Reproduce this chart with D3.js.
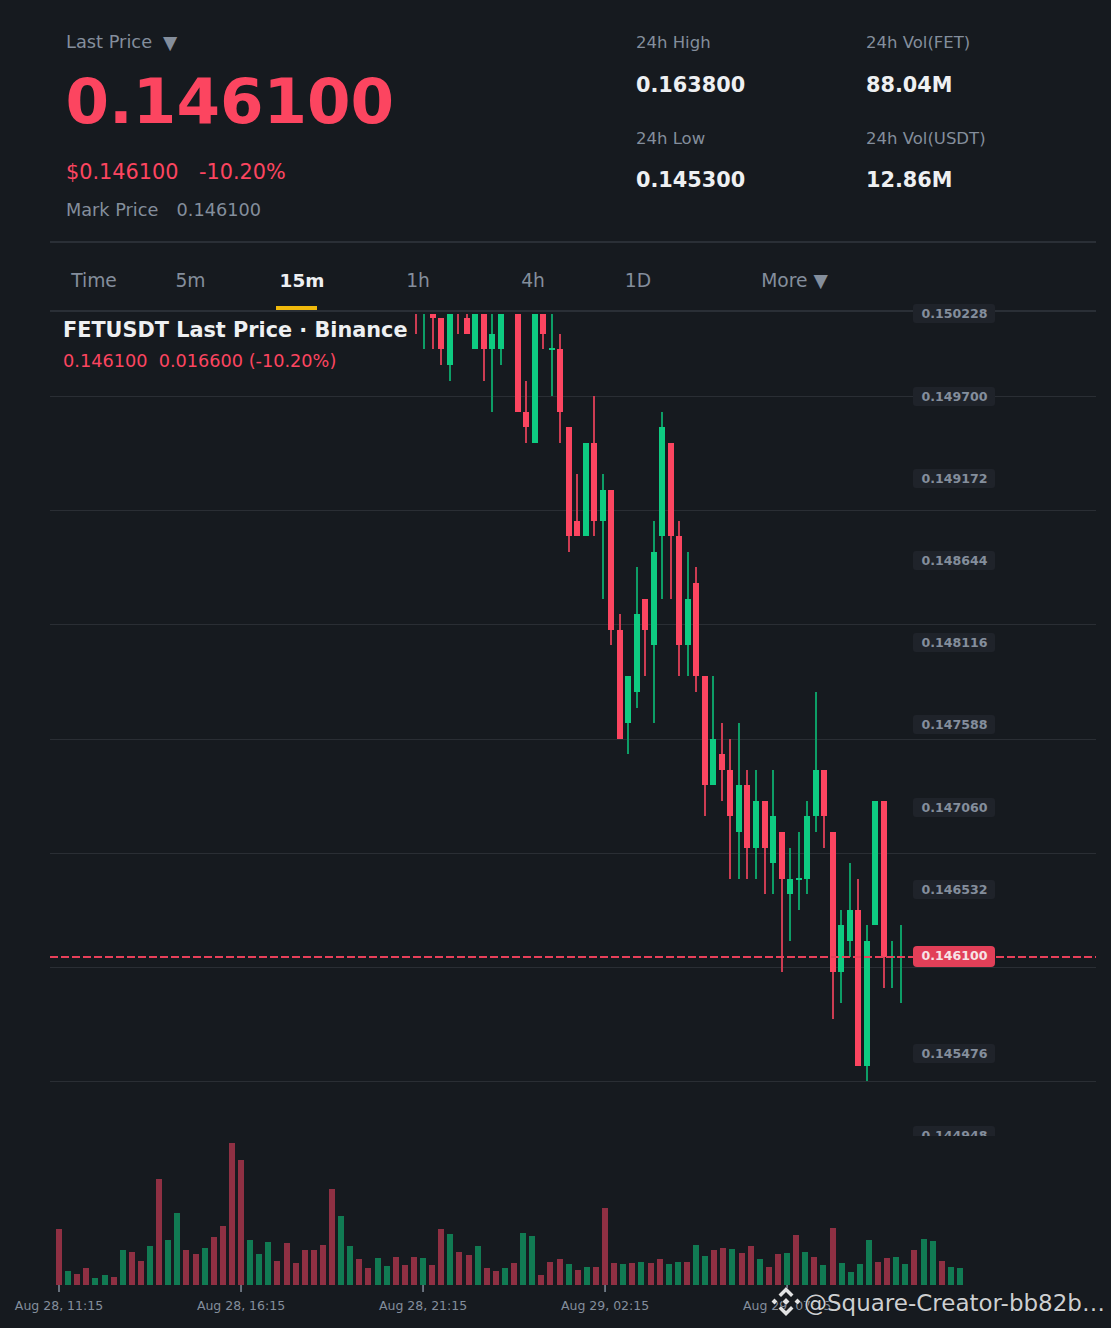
<!DOCTYPE html>
<html><head><meta charset="utf-8">
<script src="https://cdn.jsdelivr.net/npm/d3@7/dist/d3.min.js"></script>
<style>html,body{margin:0;padding:0;background:#161a1f;overflow:hidden}svg{display:block}text{font-family:"DejaVu Sans",sans-serif}</style>
</head><body><div id="c"></div>
<script>
// candles 39..96 of the 15m series (top ones run off the clipped pane)
const candleIndex = d3.range(39, 97);
const opens  = [.1504,.1503,.1503,.1502,.1499,.1504,.1502,.1500,.1504,.1500,.1500,.1510,.1505,.1496,.1494,.1506,.1500,.1500,.1495,.1489,.1488,.1494,.1489,.1491,.1482,.1476,.1478,.1484,.1481,.1488,.1494,.1488,.1481,.1485,.1479,.1472,.1474,.1473,.1469,.1472,.1468,.1471,.1467,.1469,.1465,.1466,.1466,.1470,.1473,.1469,.1460,.1462,.1464,.1454,.1463,.1471,.1461,.1461];
const closes = [.1503,.1504,.1502,.1500,.1503,.1503,.1501,.1504,.1500,.1501,.1504,.1508,.1496,.1495,.1505,.1501,.1500,.1496,.1488,.1488,.1494,.1489,.1491,.1482,.1475,.1479,.1483,.1482,.1487,.1495,.1488,.1481,.1484,.1479,.1472,.1475,.1473,.1470,.1472,.1468,.1471,.1468,.1470,.1466,.1466,.1466,.1470,.1473,.1470,.1460,.1463,.1464,.1454,.1462,.1471,.1461,.1461,.1461];
const highs  = [.1505,.1505,.1504,.1502,.1505,.1505,.1503,.1505,.1505,.1503,.1505,.1511,.1506,.1498,.1506,.1507,.1503,.1501,.1495,.1492,.1494,.1497,.1492,.1491,.1483,.1479,.1486,.1484,.1489,.1496,.1494,.1489,.1487,.1486,.1479,.1479,.1476,.1475,.1476,.1473,.1473,.1471,.1473,.1469,.1468,.1469,.1471,.1478,.1473,.1469,.1464,.1467,.1466,.1463,.1471,.1471,.1462,.1463];
const lows   = [.1501,.1500,.1500,.1499,.1498,.1501,.1501,.1500,.1498,.1496,.1499,.1505,.1496,.1494,.1494,.1500,.1497,.1494,.1487,.1488,.1488,.1488,.1484,.1481,.1475,.1474,.1477,.1479,.1476,.1484,.1484,.1479,.1479,.1478,.1470,.1472,.1471,.1466,.1466,.1466,.1466,.1465,.1465,.1460,.1462,.1464,.1465,.1469,.1468,.1457,.1458,.1461,.1454,.1453,.1463,.1459,.1459,.1458];

// volume pane: 100 bars, read in pixel-height units of the pane
const volumes = [56,14,11,17,7,10,8,35,33,24,39,106,45,72,35,31,37,48,59,142,125,45,31,43,24,42,22,35,35,40,96,69,39,26,17,27,19,28,20,28,27,20,56,51,33,30,39,17,14,17,22,52,49,10,23,26,21,15,18,18,77,22,21,22,23,22,26,21,23,23,40,29,35,37,36,32,39,26,18,31,32,50,33,28,20,57,22,13,21,45,23,27,28,21,35,46,44,24,18,17];
const volumeColors = ["R","G","R","R","G","G","R","G","R","R","G","R","G","G","R","R","G","R","R","R","R","G","G","G","R","R","R","R","R","R","R","G","G","R","R","G","G","R","R","R","G","R","R","G","R","R","G","R","R","G","R","G","G","R","R","R","G","R","G","R","R","R","G","R","G","R","R","G","G","R","G","G","R","R","G","R","R","G","R","R","G","R","G","R","G","R","G","G","G","G","R","R","G","G","R","G","G","R","G","G"];

const priceTicks = [0.150228,0.149700,0.149172,0.148644,0.148116,0.147588,0.147060,0.146532,0.145476,0.144948];
const gridPrices = [0.149700,0.148968,0.148235,0.147495,0.146762,0.146030,0.145298];
const lastPrice = 0.146100;
const timeTicks = [[0,"Aug 28, 11:15"],[20,"Aug 28, 16:15"],[40,"Aug 28, 21:15"],[60,"Aug 29, 02:15"],[80,"Aug 29, 07:15"]];
const tabs = [["Time",94],["5m",190.5],["15m",302],["1h",418],["4h",533],["1D",638],["More ▼",794.5]];

const RED="#FC4560", GREEN="#0ECB81", GREY="#848E9C", WHITE="#EEF0F2", BG="#161a1f";
const svg = d3.select("#c").append("svg").attr("width",1111).attr("height",1328);
svg.append("rect").attr("width",1111).attr("height",1328).attr("fill",BG);

function t(x,y,s,size,fill,weight,anchor){
  return svg.append("text").attr("x",x).attr("y",y).attr("font-size",size).attr("fill",fill)
    .attr("font-weight",weight||"normal").attr("text-anchor",anchor||"start").style("white-space","pre").text(s);
}
// header
t(66,48.3,"Last Price",17.8,GREY);
t(163,49,"▼",18.5,GREY);
t(65.5,123,"0.146100",62.6,RED,"bold");
t(66,179,"$0.146100",20.8,RED);
t(199,179,"-10.20%",20.8,RED);
t(66,216,"Mark Price",17.7,GREY);
t(176.5,216,"0.146100",17.7,GREY);
t(636,48,"24h High",16.5,GREY);
t(636,91.5,"0.163800",20.8,WHITE,"bold");
t(636,144,"24h Low",16.5,GREY);
t(636,186.5,"0.145300",20.8,WHITE,"bold");
t(866,48,"24h Vol(FET)",16.5,GREY);
t(866,91.5,"88.04M",20.8,WHITE,"bold");
t(866,144,"24h Vol(USDT)",16.5,GREY);
t(866,186.5,"12.86M",20.8,WHITE,"bold");
svg.append("rect").attr("x",50).attr("y",241).attr("width",1046).attr("height",2).attr("fill","#2a2f36");

// tabs
tabs.forEach(([s,x])=>t(x,287,s,s==="15m"?18.4:18.7,s==="15m"?WHITE:GREY,s==="15m"?"bold":"normal","middle"));
svg.append("rect").attr("x",276).attr("y",306).attr("width",41).attr("height",4).attr("fill","#F0B90B");
svg.append("rect").attr("x",50).attr("y",310).attr("width",1046).attr("height",2).attr("fill","#2a2f36");

// scales
const y = d3.scaleLinear().domain([0.1461,0.150228]).range([956.6,314]);
const x = d3.scaleLinear().domain([39,96]).range([416.1,901.17]);
const xv = d3.scaleLinear().domain([0,99]).range([59,960]);
const yv = d3.scaleLinear().domain([0,142]).range([1285,1143]);
const ry = v=>Math.round(y(v));
const fx = i=>Math.floor(x(i));

// grid
svg.append("g").selectAll("line").data(gridPrices).join("line")
  .attr("x1",50).attr("x2",1096).attr("y1",d=>Math.floor(y(d))+.5).attr("y2",d=>Math.floor(y(d))+.5)
  .attr("stroke","#2a2e34").attr("stroke-width",1);

// candles
const defs = svg.append("defs");
defs.append("clipPath").attr("id","pane").append("rect").attr("x",50).attr("y",314).attr("width",870).attr("height",822);
const cg = svg.append("g").attr("clip-path","url(#pane)");
const candles = candleIndex.map((i,k)=>({i,o:opens[k],c:closes[k],h:highs[k],l:lows[k]}));
const up = d=>d.c>=d.o;
cg.selectAll("rect.w").data(candles).join("rect").attr("class","w")
  .attr("x",d=>fx(d.i)-1).attr("width",2)
  .attr("y",d=>ry(d.h)).attr("height",d=>ry(d.l)-ry(d.h))
  .attr("fill",d=>up(d)?"#0d9d66":"#cc3c52");
cg.selectAll("rect.b").data(candles).join("rect").attr("class","b")
  .attr("x",d=>fx(d.i)-3).attr("width",6)
  .attr("y",d=>d.o===d.c?ry(d.o)-1:ry(Math.max(d.o,d.c)))
  .attr("height",d=>d.o===d.c?2:Math.abs(ry(d.o)-ry(d.c)))
  .attr("fill",d=>up(d)?GREEN:RED);

// last price dashed line
svg.append("line").attr("x1",50).attr("x2",1096).attr("y1",ry(lastPrice)).attr("y2",ry(lastPrice))
  .attr("stroke","#e8405a").attr("stroke-width",2).attr("stroke-dasharray","8 3");

// legend
t(63,337,"FETUSDT Last Price · Binance",20.8,WHITE,"bold");
t(63,367,"0.146100  0.016600 (-10.20%)",17.7,RED);

// y labels
defs.append("clipPath").attr("id","ylab").append("rect").attr("x",900).attr("y",300).attr("width",110).attr("height",836);
const yl = svg.append("g").attr("clip-path","url(#ylab)");
yl.selectAll("rect").data(priceTicks).join("rect").attr("x",913).attr("width",82).attr("height",19).attr("rx",3)
  .attr("y",d=>Math.round(y(d)+.4)-10).attr("fill","#1f232a");
yl.selectAll("text").data(priceTicks).join("text").attr("x",954.5).attr("y",d=>Math.round(y(d)+.4)+4).attr("text-anchor","middle")
  .attr("font-size",12.6).attr("font-weight","bold").attr("fill",GREY).text(d=>d.toFixed(6));
svg.append("rect").attr("x",913).attr("y",946).attr("width",82).attr("height",21).attr("rx",4).attr("fill","#e23f58");
t(954.5,960,lastPrice.toFixed(6),12.6,"#f7e3e6","bold","middle");

// volume
svg.append("g").selectAll("rect").data(volumes).join("rect")
  .attr("x",(d,i)=>Math.round(xv(i))-3).attr("width",6)
  .attr("y",d=>yv(d)).attr("height",d=>yv(0)-yv(d))
  .attr("fill",(d,i)=>volumeColors[i]==="R"?"#8f3043":"#117b53");

// time axis
timeTicks.forEach(([i,s])=>{
  svg.append("line").attr("x1",xv(i)).attr("x2",xv(i)).attr("y1",1285).attr("y2",1292).attr("stroke",GREY).attr("stroke-width",1.5);
  t(xv(i),1310,s,12.5,GREY,"normal","middle");
});

// watermark
svg.append("path").attr("transform","translate(786,1301.5)").attr("fill","#e2e3e4")
  .attr("style","paint-order:stroke;stroke:#101215;stroke-width:1px")
  .attr("d","M0,-14.5 L7.5,-7 L5,-4.5 L0,-9.5 L-5,-4.5 L-7.5,-7 Z M0,14.5 L7.5,7 L5,4.5 L0,9.5 L-5,4.5 L-7.5,7 Z M-11.5,-3 L-8.5,0 L-11.5,3 L-14.5,0 Z M11.5,-3 L14.5,0 L11.5,3 L8.5,0 Z M0,-3.5 L3.5,0 L0,3.5 L-3.5,0 Z");
svg.append("text").attr("x",804).attr("y",1311).attr("font-size",23).attr("fill","#cdcfd1")
  .attr("style","paint-order:stroke;stroke:#101215;stroke-width:1px").text("@Square-Creator-bb82b…");
</script></body></html>
